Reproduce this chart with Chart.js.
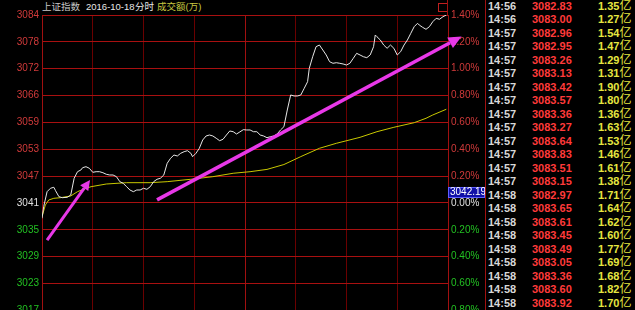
<!DOCTYPE html>
<html>
<head>
<meta charset="utf-8">
<script src="https://cdn.jsdelivr.net/npm/chart.js@4.4.0/dist/chart.umd.min.js"></script>
<style>
html, body { margin: 0; padding: 0; background: #000; }
body { width: 635px; height: 310px; overflow: hidden; position: relative; font-family: "Liberation Sans", "Noto Sans CJK SC", sans-serif; }
#wrap { position: absolute; left: 0; top: 0; width: 485px; height: 320px; }
.hdr { position: absolute; top: 1px; font-size: 9.5px; line-height: 11px; white-space: nowrap; font-family: "Liberation Sans", "Noto Sans CJK SC", sans-serif; }
.vline { position: absolute; width: 1px; background: #a01010; }
#box { position: absolute; width: 8px; height: 7px; border: 1px solid #c02020; left: 438px; top: 3px; }
#table { position: absolute; left: 0; top: 0; }
.row { position: absolute; height: 13.5px; line-height: 13.5px; font-size: 11px; font-weight: bold; white-space: nowrap; }
.row span { position: absolute; }
.t { left: 488px; color: #d8d8d8; }
.p { left: 532px; color: #ff3a3a; }
.v { left: 598px; color: #e6e640; }
.v i { font-style: normal; font-weight: normal; font-size: 12px; }
</style>
</head>
<body>
<div class="hdr" style="left:42px;color:#c8c8c8">上证指数</div>
<div class="hdr" style="left:86px;color:#e8e8e8">2016-10-18</div>
<div class="hdr" style="left:135px;color:#e8e8e8">分时</div>
<div class="hdr" style="left:157px;color:#c8c840">成交额(万)</div>
<div id="box"></div>
<div class="vline" style="left:447px;top:0;height:16px"></div>
<div class="vline" style="left:485px;top:0;height:310px"></div>
<div id="wrap"><canvas id="myChart"></canvas></div>
<div id="table"></div>
<script>
// previous close (0.00% line)
const base = 3042.19
const step = base * 0.002

// tick labels, top to bottom
const priceLabels = ['3084', '3078', '3072', '3066', '3059', '3053', '3047', '3041', '3035', '3029', '3023', '3017']
const pctLabels = ['1.40%', '1.20%', '1.00%', '0.80%', '0.60%', '0.40%', '0.20%', '0.00%', '0.20%', '0.40%', '0.60%', '0.80%']

// minutes since 9:30 (lunch break removed) and index price
const minutes = [0, 1, 3, 5, 7, 8, 10, 12, 15, 17, 19, 21, 23, 24, 26, 28, 30, 32, 34, 36, 38, 40, 42, 44, 46, 48, 50, 52, 54, 56, 58, 60, 62, 64, 66, 68, 70, 72, 74, 76, 78, 80, 82, 84, 86, 88, 89, 91, 93, 95, 97, 99, 101, 103, 105, 107, 109, 111, 113, 115, 117, 119, 121, 123, 125, 127, 129, 131, 133, 135, 137, 139, 141, 143, 145, 147, 149, 151, 153, 155, 157, 158, 160, 162, 164, 166, 168, 170, 172, 174, 176, 178, 180, 182, 184, 186, 188, 190, 192, 194, 196, 197, 198, 200, 202, 204, 206, 208, 210, 212, 214, 216, 218, 220, 222, 223, 225, 227, 229, 231, 233, 235, 237, 239]
const prices = [3038.72, 3041.35, 3044.75, 3045.52, 3045.75, 3044.98, 3043.62, 3043.39, 3043.48, 3044.00, 3047.79, 3049.28, 3049.67, 3050.19, 3050.41, 3050.05, 3049.14, 3049.28, 3049.28, 3049.05, 3048.69, 3048.53, 3048.53, 3048.15, 3047.02, 3046.65, 3045.88, 3045.13, 3044.75, 3045.13, 3045.13, 3045.52, 3045.29, 3045.88, 3047.02, 3047.56, 3047.79, 3048.53, 3051.18, 3052.32, 3053.06, 3052.84, 3053.45, 3053.81, 3054.04, 3053.45, 3052.68, 3053.45, 3054.58, 3056.46, 3057.37, 3057.59, 3057.37, 3056.85, 3056.30, 3056.62, 3057.59, 3058.50, 3058.34, 3057.82, 3058.30, 3058.80, 3058.73, 3058.73, 3058.34, 3058.34, 3057.59, 3057.37, 3056.98, 3057.21, 3057.37, 3057.82, 3058.73, 3059.47, 3063.26, 3066.66, 3066.43, 3066.43, 3066.66, 3068.17, 3069.67, 3072.70, 3075.33, 3077.60, 3077.98, 3076.85, 3075.72, 3074.20, 3073.84, 3073.97, 3073.84, 3073.68, 3073.45, 3073.84, 3074.97, 3076.10, 3075.72, 3075.33, 3075.11, 3075.72, 3077.60, 3080.25, 3079.86, 3079.10, 3077.98, 3077.24, 3077.98, 3077.24, 3075.72, 3076.47, 3077.98, 3079.12, 3080.63, 3082.13, 3082.90, 3082.51, 3081.99, 3081.54, 3082.13, 3083.26, 3084.03, 3083.81, 3084.39, 3084.78]

// average price line
const avgMinutes = [0, 2, 4, 7, 11, 17, 21, 26, 29, 38, 50, 64, 74, 88, 101, 113, 123, 133, 143, 153, 164, 174, 188, 198, 208, 220, 227, 231, 239]
const avgPrices = [3039.09, 3041.74, 3042.87, 3043.25, 3043.39, 3043.78, 3044.75, 3045.52, 3045.88, 3046.49, 3046.79, 3046.79, 3047.02, 3047.56, 3048.15, 3048.92, 3049.28, 3049.80, 3050.90, 3052.70, 3054.58, 3055.71, 3057.07, 3058.34, 3059.34, 3060.38, 3061.38, 3062.13, 3063.42]

// hand drawn arrows (minute, price)
const arrowFromMin = [3, 68]
const arrowFromPrice = [3033.8, 3042.9]
const arrowToMin = [28.4, 248]
const arrowToPrice = [3047.4, 3079.9]

// tick list on the right
const tickTimes = ['14:56', '14:56', '14:57', '14:57', '14:57', '14:57', '14:57', '14:57', '14:57', '14:57', '14:57', '14:57', '14:57', '14:57', '14:58', '14:58', '14:58', '14:58', '14:58', '14:58', '14:58', '14:58', '14:58']
const tickPrices = ['3082.83', '3083.00', '3082.96', '3082.95', '3083.26', '3083.13', '3083.42', '3083.57', '3083.36', '3083.27', '3083.64', '3083.83', '3083.51', '3083.15', '3082.97', '3083.65', '3083.61', '3083.45', '3083.49', '3083.05', '3083.36', '3083.60', '3083.92']
const tickVols = ['1.35', '1.27', '1.54', '1.47', '1.29', '1.31', '1.90', '1.80', '1.36', '1.63', '1.53', '1.46', '1.61', '1.38', '1.71', '1.64', '1.62', '1.60', '1.77', '1.69', '1.68', '1.82', '1.70']

const table = document.getElementById('table')
tickTimes.forEach((t, i) => {
  const row = document.createElement('div')
  row.className = 'row'
  row.style.top = (i * 13.5 - 0.5) + 'px'
  row.innerHTML = '<span class="t">' + t + '</span><span class="p">' + tickPrices[i] + '</span><span class="v">' + tickVols[i] + '<i>亿</i></span>'
  table.appendChild(row)
})

const stepIndex = v => Math.round((v - base) / step)
const labelColor = v => {
  const k = stepIndex(v)
  if (k > 0) return '#d03a3a'
  if (k < 0) return '#22c022'
  return '#e0e0e0'
}
const setTicks = scale => {
  scale.ticks = []
  for (let k = -4; k <= 7; k++) scale.ticks.push({ value: base + k * step })
}

const arrowPlugin = {
  id: 'arrows',
  afterDatasetsDraw(chart) {
    const { ctx, scales } = chart
    ctx.save()
    ctx.strokeStyle = '#e838e8'
    ctx.fillStyle = '#e838e8'
    arrowFromMin.forEach((m, i) => {
      const x1 = scales.x.getPixelForValue(m)
      const y1 = scales.y.getPixelForValue(arrowFromPrice[i])
      const x2 = scales.x.getPixelForValue(arrowToMin[i])
      const y2 = scales.y.getPixelForValue(arrowToPrice[i])
      const a = Math.atan2(y2 - y1, x2 - x1)
      const len = i === 0 ? 10 : 13
      const hw = i === 0 ? 5 : 6
      const bx = x2 - len * Math.cos(a)
      const by = y2 - len * Math.sin(a)
      ctx.lineWidth = i === 0 ? 3 : 3.5
      ctx.beginPath()
      ctx.moveTo(x1, y1)
      ctx.lineTo(bx, by)
      ctx.stroke()
      ctx.beginPath()
      ctx.moveTo(x2, y2)
      ctx.lineTo(bx + hw * Math.sin(a), by - hw * Math.cos(a))
      ctx.lineTo(bx - hw * Math.sin(a), by + hw * Math.cos(a))
      ctx.closePath()
      ctx.fill()
    })
    // previous close marker
    const y0 = scales.y.getPixelForValue(base)
    const left = chart.chartArea.right
    ctx.fillStyle = '#1010a8'
    ctx.fillRect(left, y0 - 16, 37, 11)
    ctx.strokeStyle = '#6060ff'
    ctx.lineWidth = 1
    ctx.strokeRect(left + 0.5, y0 - 15.5, 36, 10)
    ctx.fillStyle = '#ffffff'
    ctx.font = '10px "Liberation Sans"'
    ctx.textBaseline = 'middle'
    ctx.fillText(base.toFixed(2), left + 2, y0 - 10.5)
    ctx.restore()
  }
}

const config = {
  type: 'line',
  data: {
    datasets: [
      {
        data: minutes.map((m, i) => ({ x: m, y: prices[i] })),
        borderColor: '#e6e6e6',
        borderWidth: 1,
        pointRadius: 0,
        tension: 0
      },
      {
        data: avgMinutes.map((m, i) => ({ x: m, y: avgPrices[i] })),
        borderColor: '#c8c800',
        borderWidth: 1,
        pointRadius: 0,
        tension: 0
      }
    ]
  },
  options: {
    responsive: true,
    maintainAspectRatio: false,
    animation: false,
    layout: { padding: { top: 15, bottom: 9.6, left: 0, right: 0 } },
    plugins: { legend: { display: false }, tooltip: { enabled: false } },
    scales: {
      x: {
        type: 'linear',
        min: 0,
        max: 240,
        afterBuildTicks: s => { s.ticks = [0, 30, 60, 90, 120, 150, 180, 210, 240].map(v => ({ value: v })) },
        afterFit: s => { s.height = 0 },
        ticks: { display: false },
        border: { display: false },
        grid: {
          drawTicks: false,
          color: c => (c.tick && c.tick.value === 120) ? '#a01010' : '#6a0000'
        }
      },
      y: {
        position: 'left',
        min: base - 4 * step,
        max: base + 7 * step,
        afterBuildTicks: setTicks,
        afterFit: s => { s.width = 42 },
        border: { color: '#a01010' },
        grid: { color: '#a81010', drawTicks: false },
        ticks: {
          padding: 3,
          font: { family: 'Liberation Sans', size: 10 },
          color: c => labelColor(c.tick.value),
          callback: v => priceLabels[7 - stepIndex(v)]
        }
      },
      y2: {
        position: 'right',
        min: base - 4 * step,
        max: base + 7 * step,
        afterBuildTicks: setTicks,
        afterFit: s => { s.width = 37 },
        border: { color: '#a01010' },
        grid: { display: false, drawTicks: false },
        ticks: {
          padding: 3,
          font: { family: 'Liberation Sans', size: 10 },
          color: c => labelColor(c.tick.value),
          callback: v => pctLabels[7 - stepIndex(v)]
        }
      }
    }
  },
  plugins: [arrowPlugin]
}

const myChart = new Chart(document.getElementById('myChart'), config)
</script>
</body>
</html>
